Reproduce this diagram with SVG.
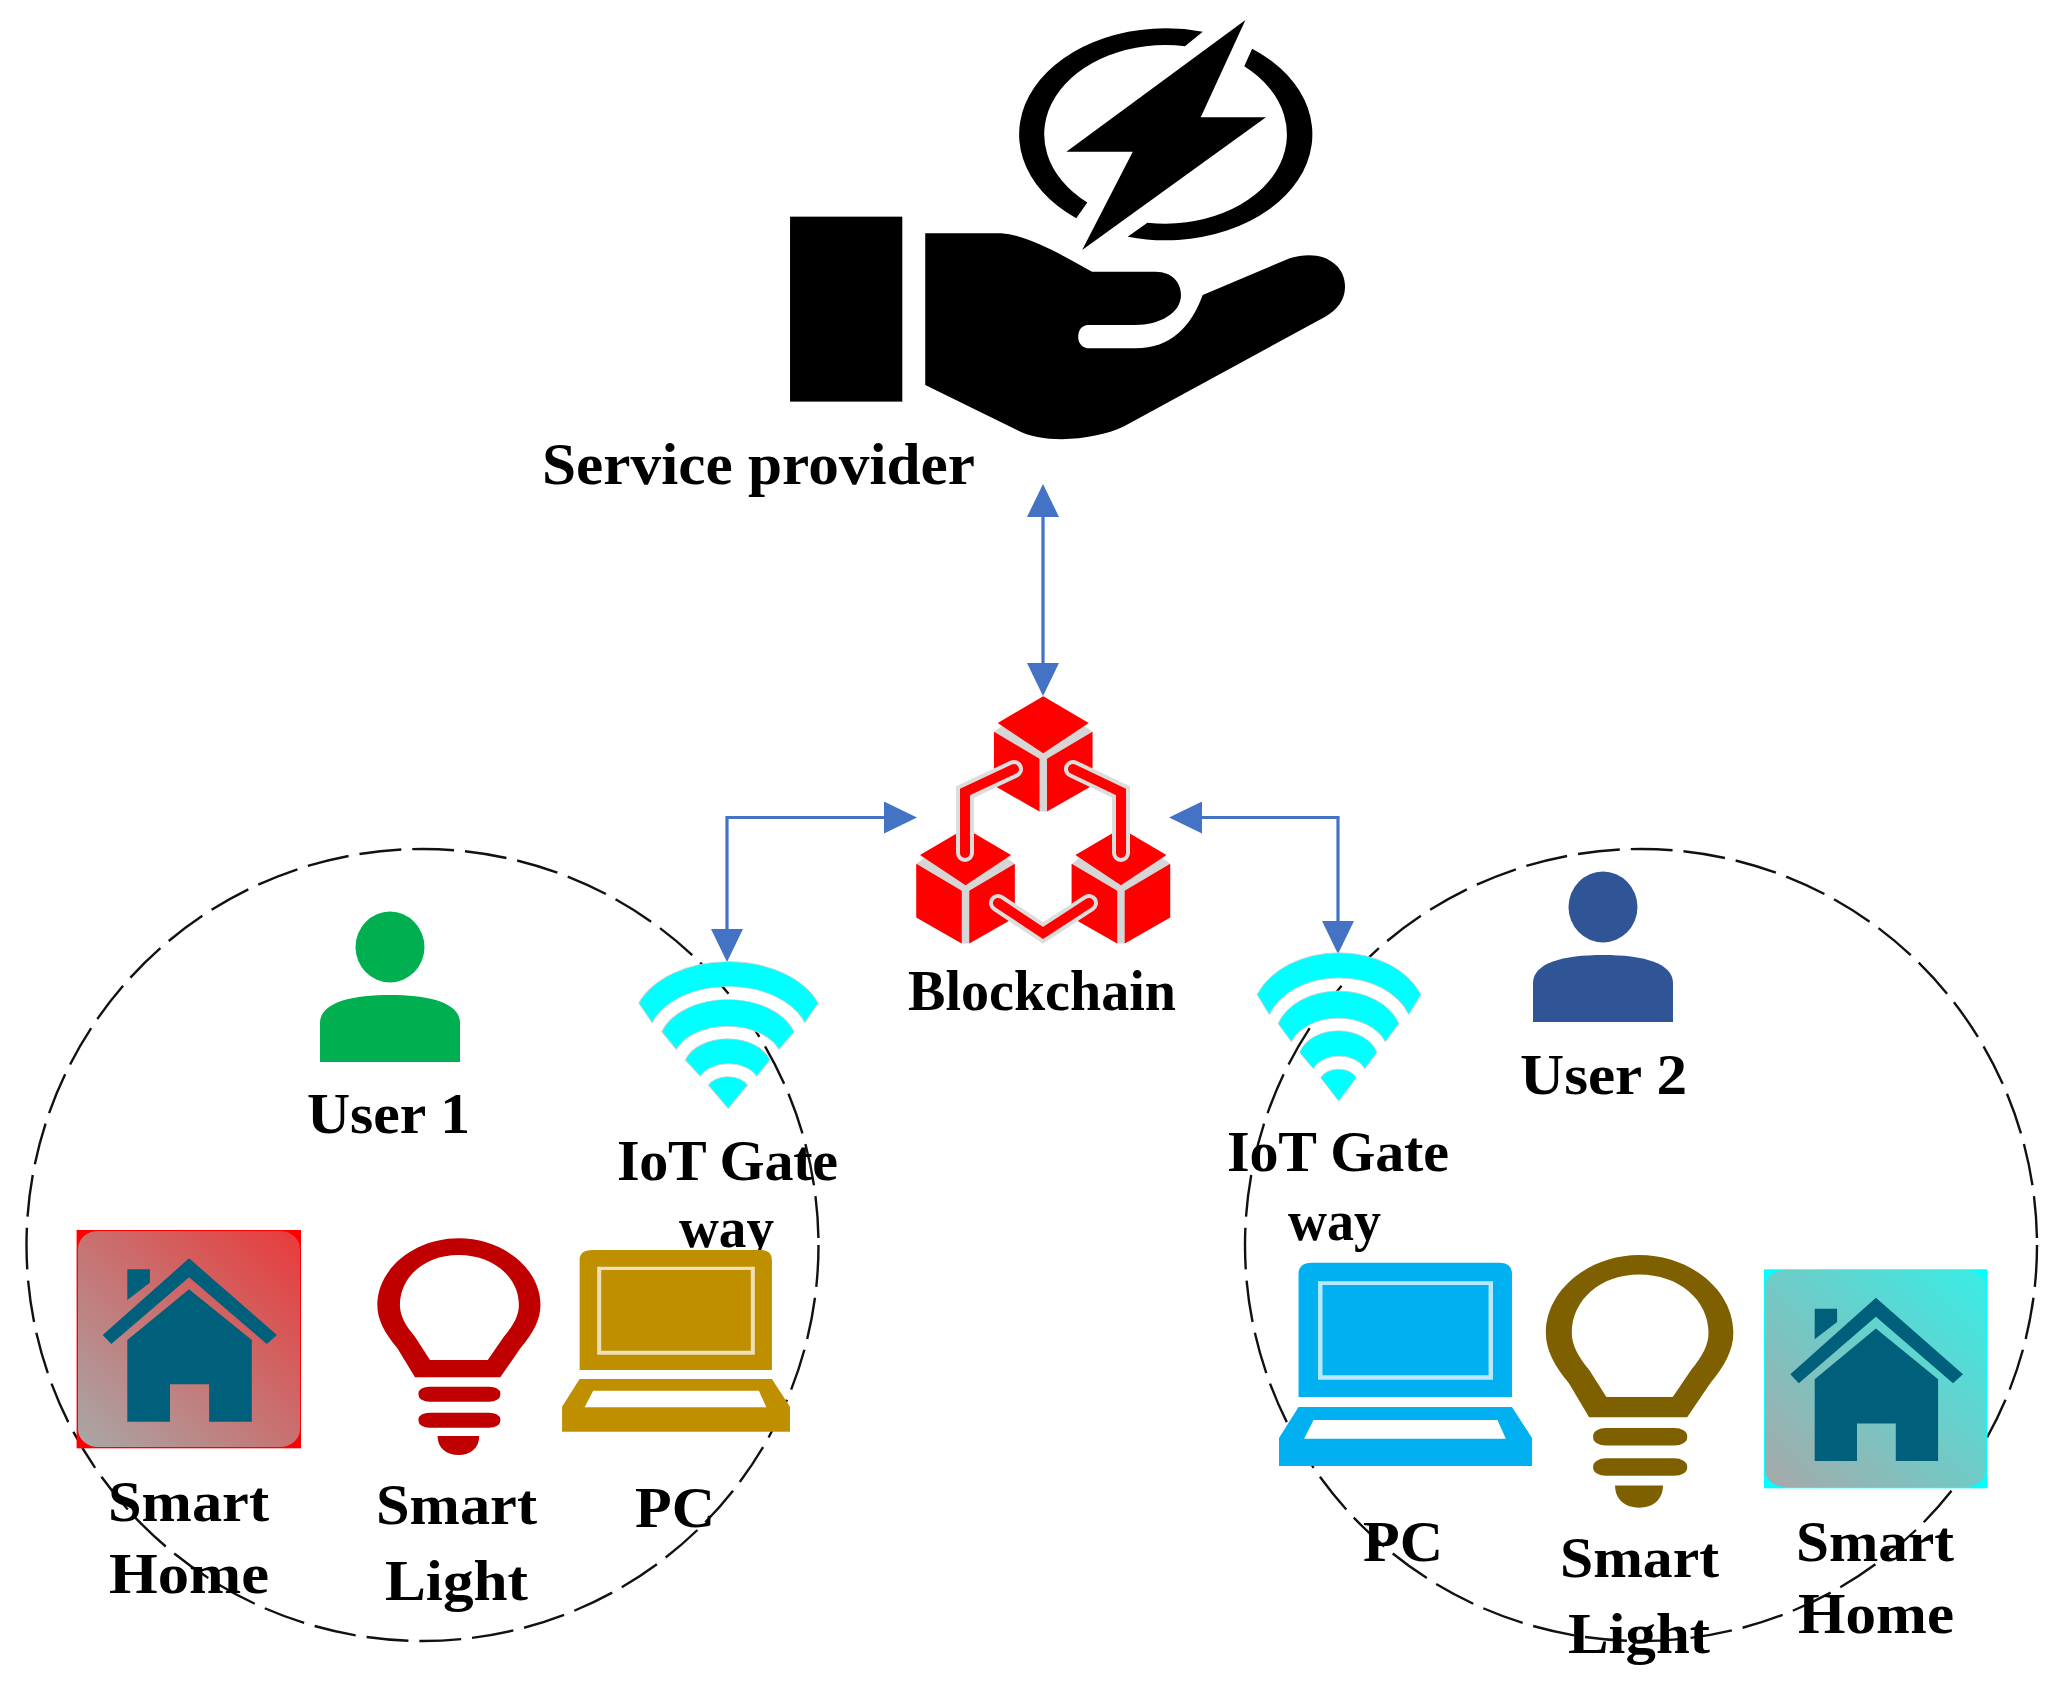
<svg xmlns="http://www.w3.org/2000/svg" xmlns:xlink="http://www.w3.org/1999/xlink" width="2067" height="1690" viewBox="0 0 2067 1690">
<style>
.t{font-family:"Liberation Serif","Times New Roman",serif;font-weight:bold;fill:#000;font-size:58px}
.ring{fill:none;stroke:#111;stroke-width:2.4;stroke-dasharray:42 11}
.conn{fill:none;stroke:#4472C4;stroke-width:3.2;marker-start:url(#ah);marker-end:url(#ah)}
.link{fill:none;stroke-linejoin:miter;stroke-linecap:round}
</style>
<defs>
<marker id="ah" markerUnits="userSpaceOnUse" markerWidth="33" markerHeight="32" refX="0" refY="16" orient="auto-start-reverse"><path d="M0,0L33,16L0,32Z" fill="#4472C4"/></marker>
<linearGradient id="gRed" x1="0" y1="1" x2="1" y2="0"><stop offset="0" stop-color="#A8A8A8"/><stop offset="1" stop-color="#E93A3A"/></linearGradient>
<linearGradient id="gCyan" x1="0" y1="1" x2="1" y2="0"><stop offset="0" stop-color="#A8A8A8"/><stop offset="1" stop-color="#38EDE6"/></linearGradient>
<g id="cube">
<path d="M645,415L737,515V665L652,738H638L553,665V515Z" fill="#D6D6D6"/>
<path d="M645,415L730,490L645,575L560,490Z" fill="#F00"/>
<path d="M553,515L638,590V738L553,665Z" fill="#F00"/>
<path d="M652,590L737,515V665L652,738Z" fill="#F00"/>
</g>
<path id="wifi" fill="#0FF" stroke="#CFCFCF" stroke-width="2" d="M35,905A179,179 0 0 1 370,905L345,960A150.800,150.800 0 0 0 60,960ZM78,985A129.700,129.700 0 0 1 325,985L297,1035A103.400,103.400 0 0 0 105,1035ZM122,1065A82,82 0 0 1 280,1065L255,1110A56.900,56.900 0 0 0 150,1110ZM165,1135A40,40 0 0 1 238,1135L202,1200Z"/>
<g id="house" fill="#00607C">
<path d="M280,175L455,405L435,432L280,232L125,432L108,405Z"/>
<path d="M157,208H202V248L157,300Z"/>
<path d="M157,420L280,268L405,420V665H320V553H242V665H157Z"/>
</g>
<g id="bulb">
<path fill-rule="evenodd" d="M735,532H905L945,445C970,400 985,360 985,315C985,205 910,115 822,115C735,115 660,205 660,315C660,360 675,400 700,445ZM765,480H880L912,410C932,375 942,345 942,315C942,230 890,165 822,165C755,165 705,230 705,315C705,345 715,375 735,410Z"/>
<rect x="742" y="560" width="163" height="45" rx="22" ry="20"/>
<rect x="742" y="638" width="163" height="45" rx="22" ry="20"/>
<path d="M780,708H863C863,745 845,765 822,765C798,765 780,745 780,708Z"/>
</g>
<g id="laptop">
<path d="M1090,150H1425Q1448,150 1448,180V510H1065V180Q1065,150 1090,150Z"/>
<path d="M1065,537H1448L1484,620V695H1030V620Z"/>
<path fill="#fff" opacity=".72" fill-rule="evenodd" d="M1100,200H1414V464H1100ZM1108,210V452H1406V210Z"/>
<path fill="#fff" d="M1092,572H1422L1437,622H1075Z"/>
</g>
<g id="person">
<ellipse cx="0" cy="-48" rx="34.500" ry="35.500"/>
<path d="M-70,67V28C-70,8 -40,0 0,0C40,0 70,8 70,28V67Z"/>
</g>
</defs>
<rect width="2067" height="1690" fill="#fff"/>

<g id="group-user1-boundary"><circle class="ring" cx="422.500" cy="1245" r="396"/></g>
<g id="group-user2-boundary"><circle class="ring" cx="1641" cy="1245" r="396"/></g>

<g id="connectors">
<polyline class="conn" points="1043,517 1043,663"/>
<polyline class="conn" points="884,817.500 727,817.500 727,929"/>
<polyline class="conn" points="1202,817.500 1338,817.500 1338,921"/>
</g>

<g id="service-provider">
<g transform="translate(760 0) scale(.3953 .3333)" fill="#000">
<rect x="76" y="650" width="284" height="555"/>
<path d="M418,700H610C680,705 770,770 840,815H1000C1045,815 1065,850 1065,885C1065,940 1010,975 950,975H830C815,975 805,990 805,1010C805,1030 815,1045 835,1045H950C1040,1045 1090,980 1120,885L1340,775C1420,745 1480,790 1480,860C1480,900 1460,930 1430,950L920,1280C850,1320 720,1335 650,1290L418,1155Z"/>
<path d="M1228,60L1115,352H1280L815,750L943,455H775Z"/>
<path d="M1120,95.400A371,318 0 0 0 800,655L828,607.800A307,268 0 0 1 1075,138.400Z"/>
<path d="M1245,146A371,318 0 0 1 930,710L980,668A307,268 0 0 0 1225,199Z"/>
</g>
<text class="t" x="542" y="484" style="font-size:60px" textLength="433" lengthAdjust="spacingAndGlyphs">Service provider</text>
</g>

<g id="blockchain">
<use xlink:href="#cube" href="#cube" transform="translate(697.700 548) scale(.5357 .357)"/>
<use xlink:href="#cube" href="#cube" transform="translate(620 680) scale(.5357 .357)"/>
<use xlink:href="#cube" href="#cube" transform="translate(775.400 680) scale(.5357 .357)"/>
<g class="link" stroke="#DDD" stroke-width="18">
<polyline points="1014,769 965,792 965,853"/>
<polyline points="1073,769 1121,792 1121,853"/>
<polyline points="998,903 1043,933 1089,903"/>
</g>
<g class="link" stroke="#F00" stroke-width="10">
<polyline points="1014,769 965,792 965,853"/>
<polyline points="1073,769 1121,792 1121,853"/>
<polyline points="998,903 1043,933 1089,903"/>
</g>
<text class="t" x="908" y="1010" style="font-size:56px" textLength="268" lengthAdjust="spacingAndGlyphs">Blockchain</text>
</g>

<g id="user1">
<use xlink:href="#person" href="#person" fill="#00B050" transform="translate(390 995)"/>
<text class="t" x="307" y="1133" textLength="163" lengthAdjust="spacingAndGlyphs">User 1</text>
</g>
<g id="user2">
<use xlink:href="#person" href="#person" fill="#2F5597" transform="translate(1603 955)"/>
<text class="t" x="1520" y="1094" textLength="167" lengthAdjust="spacingAndGlyphs">User 2</text>
</g>

<g id="gateway1">
<use xlink:href="#wifi" href="#wifi" transform="translate(620 680) scale(.5357 .357)"/>
<text class="t" x="617" y="1180" textLength="221">IoT Gate</text>
<text class="t" x="679" y="1247" textLength="95" lengthAdjust="spacingAndGlyphs">way</text>
</g>
<g id="gateway2">
<use xlink:href="#wifi" href="#wifi" transform="translate(1240 667.700) scale(.4891 .3613)"/>
<text class="t" x="1227" y="1171" textLength="222">IoT Gate</text>
<text class="t" x="1288" y="1240" textLength="93" lengthAdjust="spacingAndGlyphs">way</text>
</g>

<g id="home1">
<rect x="76.600" y="1230" width="224.400" height="218.300" fill="#F00"/>
<rect x="78" y="1231" width="222" height="216" rx="20" ry="18" fill="url(#gRed)"/>
<use xlink:href="#house" href="#house" transform="translate(48.500 1200) scale(.502 .3333)"/>
<text class="t" x="108" y="1521" textLength="161" lengthAdjust="spacingAndGlyphs">Smart</text>
<text class="t" x="109" y="1593" textLength="160" lengthAdjust="spacingAndGlyphs">Home</text>
</g>
<g id="light1">
<use xlink:href="#bulb" href="#bulb" fill="#C00000" transform="translate(46 1200) scale(.502 .3333)"/>
<text class="t" x="376" y="1524" textLength="161" lengthAdjust="spacingAndGlyphs">Smart</text>
<text class="t" x="385" y="1600" textLength="143" lengthAdjust="spacingAndGlyphs">Light</text>
</g>
<g id="pc1">
<use xlink:href="#laptop" href="#laptop" fill="#BF8F00" transform="translate(45 1200) scale(.502 .3333)"/>
<text class="t" x="635" y="1527" textLength="80" lengthAdjust="spacingAndGlyphs">PC</text>
</g>

<g id="pc2">
<use xlink:href="#laptop" href="#laptop" fill="#00B0F0" transform="translate(705 1206.700) scale(.5573 .373)"/>
<text class="t" x="1363" y="1561" textLength="80" lengthAdjust="spacingAndGlyphs">PC</text>
</g>
<g id="light2">
<use xlink:href="#bulb" href="#bulb" fill="#7F6000" transform="translate(1165 1210.300) scale(.577 .3888)"/>
<text class="t" x="1560" y="1577" textLength="159" lengthAdjust="spacingAndGlyphs">Smart</text>
<text class="t" x="1568" y="1653" textLength="142" lengthAdjust="spacingAndGlyphs">Light</text>
</g>
<g id="home2">
<rect x="1764" y="1269.300" width="223.400" height="219" fill="#0FF"/>
<rect x="1765" y="1270" width="221" height="217" rx="20" ry="18" fill="url(#gCyan)"/>
<use xlink:href="#house" href="#house" transform="translate(1736.600 1239.300) scale(.4975 .3333)"/>
<text class="t" x="1796" y="1561" textLength="158" lengthAdjust="spacingAndGlyphs">Smart</text>
<text class="t" x="1798" y="1633" textLength="156" lengthAdjust="spacingAndGlyphs">Home</text>
</g>
</svg>
